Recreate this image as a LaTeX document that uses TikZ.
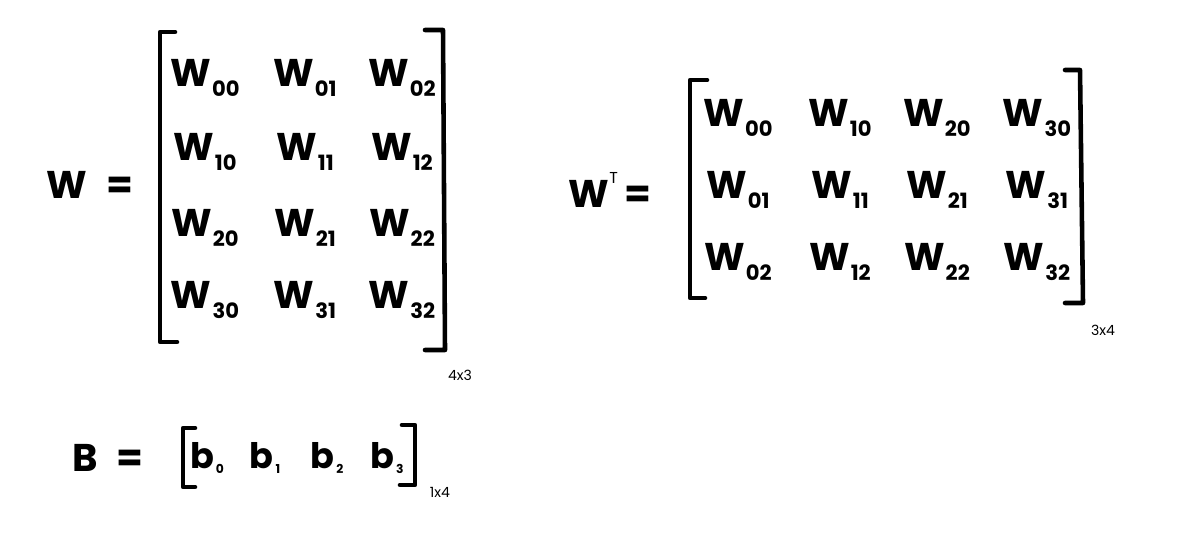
\documentclass[tikz,border=0pt]{standalone}
\usepackage{fontspec}
\setmainfont{Poppins}
\newcommand\Wsb[2]{#1\kern0.5pt\raisebox{-0.5ex}{\fontsize{12}{14}\selectfont #2}}
\newcommand\bsb[2]{#1\kern1pt\raisebox{-0.3ex}{\fontsize{7}{8}\selectfont #2}}
\begin{document}
\begin{tikzpicture}[x=0.02cm,y=-0.02cm,
  ent/.style={font=\fontsize{22}{26}\selectfont\bfseries, inner sep=0pt},
  bent/.style={font=\fontsize{20}{24}\selectfont\bfseries, inner sep=0pt},
  lbl/.style={font=\fontsize{8}{10}\selectfont, inner sep=0pt},
  brk/.style={line width=2.6pt, line cap=round, line join=round}]
\useasboundingbox (0,0) rectangle (1192,543);
% W matrix
\node[ent] (wl) at (90,185) {W \;=};
\draw[brk] (175,32) -- (160,32) -- (160,342) -- (177,342);
\draw[brk] (425,30) -- (443,30) -- (445,350) -- (425,350);
\foreach \r/\y in {0/78,1/152,2/228,3/300}{
  \foreach \c/\x in {0/205,1/305,2/402}{
    \node[ent] (w\r\c) at (\x,\y) {\Wsb{W}{\r\c}};
  }
}
\node[lbl] (d1) at (460,375) {4x3};
% WT matrix
\node[ent] (wtl) at (610,190) {W\raisebox{1.1ex}{\fontsize{9}{10}\selectfont\mdseries T}\,=};
\draw[brk] (707,80) -- (690,80) -- (690,298) -- (705,298);
\draw[brk] (1065,70) -- (1080,70) -- (1083,303) -- (1065,303);
\foreach \r/\y in {0/118,1/190,2/262}{
  \foreach \c/\x in {0/738,1/840,2/937,3/1037}{
    \node[ent] (t\r\c) at (\x,\y) {\Wsb{W}{\c\r}};
  }
}
\node[lbl] (d2) at (1103,330) {3x4};
% B
\node[ent] (bl) at (108,458) {B \;=};
\draw[brk] (195,428) -- (183,428) -- (183,487) -- (195,487);
\draw[brk] (402,425) -- (415,425) -- (415,485) -- (400,485);
\foreach \c/\x in {0/207,1/265,2/327,3/387}{
  \node[bent] (b\c) at (\x,458) {\bsb{b}{\c}};
}
\node[lbl] (d3) at (440,492) {1x4};
\end{tikzpicture}
\end{document}
